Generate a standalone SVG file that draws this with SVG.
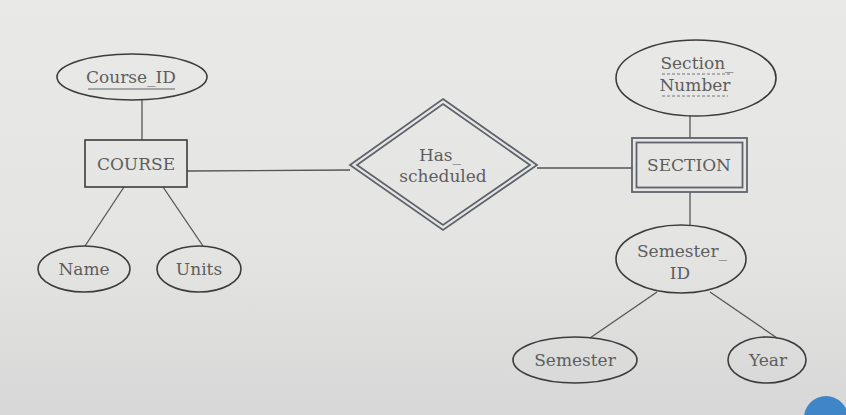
<svg xmlns="http://www.w3.org/2000/svg" width="846" height="415" viewBox="0 0 846 415">
<defs>
<linearGradient id="bg" x1="0" y1="0" x2="0" y2="1">
<stop offset="0" stop-color="#e9e9e8"/>
<stop offset="0.6" stop-color="#e4e4e3"/>
<stop offset="1" stop-color="#d6d7d6"/>
</linearGradient>
<style>
.sh{fill:none;stroke:#3c3c3c;stroke-width:1.6}
.db{fill:none;stroke:#5f636b;stroke-width:1.8}
.ln{stroke:#555;stroke-width:1.3;fill:none}
.t{font-family:'DejaVu Serif',serif;font-size:17px;fill:#5e5e5e;text-anchor:middle}
.ul{stroke:#666;stroke-width:1.2}
.dul{stroke:#777;stroke-width:1.2;stroke-dasharray:3 2}
</style>
</defs>
<rect width="846" height="415" fill="url(#bg)"/>
<g id="connectors" class="ln">
<line x1="142" y1="100" x2="142" y2="140"/>
<line x1="187" y1="171" x2="350" y2="170"/>
<line x1="537" y1="168" x2="633" y2="168"/>
<line x1="690" y1="115" x2="690" y2="138"/>
<line x1="690" y1="192" x2="690" y2="226"/>
<line x1="124" y1="187" x2="85" y2="246"/>
<line x1="163" y1="187" x2="203" y2="246"/>
<line x1="657" y1="292" x2="590" y2="338"/>
<line x1="710" y1="292" x2="777" y2="338"/>
</g>
<g id="course_id">
<ellipse class="sh" cx="132" cy="77" rx="75" ry="23"/>
<text class="t" x="131" y="83">Course_ID</text>
<line class="ul" x1="88" y1="89" x2="175" y2="89"/>
</g>
<g id="course">
<rect class="sh" x="85" y="140" width="102" height="47" fill="#e8e8e7"/>
<text class="t" x="136" y="170">COURSE</text>
</g>
<g id="name">
<ellipse class="sh" cx="84" cy="269" rx="46" ry="23"/>
<text class="t" x="84" y="275">Name</text>
</g>
<g id="units">
<ellipse class="sh" cx="199" cy="269" rx="42" ry="23"/>
<text class="t" x="199" y="275">Units</text>
</g>
<g id="has_scheduled">
<polygon class="db" points="443,99 537,165 443,230 350,165"/>
<polygon class="db" points="443,104 530,165 443,225 357,165"/>
<text class="t" x="440" y="161">Has_</text>
<text class="t" x="443" y="182">scheduled</text>
</g>
<g id="section">
<rect class="db" x="632" y="138" width="115" height="54"/>
<rect class="db" x="636.5" y="142.5" width="106" height="45"/>
<text class="t" x="689" y="171">SECTION</text>
</g>
<g id="section_number">
<ellipse class="sh" cx="696" cy="78" rx="80" ry="38"/>
<text class="t" x="697" y="69">Section_</text>
<text class="t" x="695" y="91">Number</text>
<line class="dul" x1="662" y1="74" x2="731" y2="74"/>
<line class="dul" x1="662" y1="96" x2="728" y2="96"/>
</g>
<g id="semester_id">
<ellipse class="sh" cx="681" cy="259" rx="65" ry="34"/>
<text class="t" x="682" y="257">Semester_</text>
<text class="t" x="680" y="279">ID</text>
</g>
<g id="semester">
<ellipse class="sh" cx="575" cy="360" rx="62" ry="23"/>
<text class="t" x="575" y="366">Semester</text>
</g>
<g id="year">
<ellipse class="sh" cx="767" cy="360" rx="39" ry="23"/>
<text class="t" x="768" y="366">Year</text>
</g>
<circle cx="826" cy="418" r="22" fill="#3f86c8"/>
</svg>
